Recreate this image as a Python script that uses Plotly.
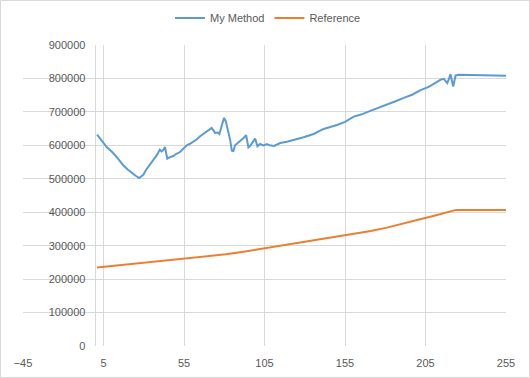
import plotly.graph_objects as go

# Series "My Method"
method_x = [1, 2, 3, 4, 5, 7, 9, 11, 14, 17, 20, 22.5, 25, 27.2, 29.7, 31.5, 33.8, 36, 38, 40,
            41, 42, 43.2, 44.6, 46, 48.3, 50, 52.5, 55, 56.7, 58.5, 60.8, 63, 65, 67, 69.1, 71,
            72.2, 73.3, 74.3, 76, 77, 78.5, 79.9, 81, 82.6, 83.7, 84.7, 85.7, 86.7, 88, 88.8, 90,
            90.9, 92, 93.6, 95, 96, 97.1, 98, 99.2, 100.6, 102.3, 104.3, 106.5, 108.1, 111, 114.7,
            118.9, 124, 129.3, 135.5, 141.7, 150, 155, 160.4, 165, 170.7, 176, 181.1, 186, 191.5,
            197, 201.9, 207, 212.2, 214.3, 216.4, 218.5, 219.7, 220.5, 222.2, 223, 223.7, 225.7,
            233, 240, 248, 255]
method_y = [632000, 626000, 620000, 612000, 608000, 595000, 586000, 577000, 560000, 542000,
            528000, 517000, 509000, 502000, 512000, 527000, 542000, 557000, 570000, 587000,
            582000, 585000, 595000, 560000, 564000, 568000, 574000, 580000, 592000, 600000,
            604000, 610000, 618000, 627000, 634000, 640000, 647000, 652000, 645000, 637000,
            638000, 634000, 660000, 682000, 672000, 642000, 615000, 584000, 583000, 600000,
            605000, 610000, 614000, 617000, 622000, 630000, 594000, 598000, 604000, 612000,
            620000, 597000, 604000, 600000, 604000, 600000, 598000, 607000, 611000, 617000,
            624000, 634000, 649000, 661000, 670000, 686000, 692000, 703000, 712000, 723000,
            731000, 742000, 752000, 765000, 775000, 790000, 796000, 799000, 786000, 800000,
            813000, 776000, 795000, 809000, 811000, 810000, 810000, 809000, 808000]

# Series "Reference"
ref_x = [1, 11, 21, 31, 41, 51, 61, 71, 81, 91, 101, 111, 121, 131, 141, 151, 161, 171, 181,
         191, 201, 211, 221, 224, 235, 245, 255]
ref_y = [234500, 239500, 244500, 249300, 254000, 258000, 262500, 268500, 274000, 281000,
         289000, 296500, 304500, 313000, 320000, 327000, 335000, 344000, 354000, 365000,
         378000, 390000, 403000, 407000, 407000, 407000, 407000]

W, H = 530, 378
L, R, T, B = 23, 24, 45, 32
pw, ph = W - L - R, H - T - B
grid = "#d9d9d9"
txt = "#595959"
font = "Liberation Sans"

fig = go.Figure()
fig.add_trace(go.Scatter(x=method_x, y=method_y, mode="lines", name="My Method",
                         line=dict(color="#5B9BD5", width=2)))
fig.add_trace(go.Scatter(x=ref_x, y=ref_y, mode="lines", name="Reference",
                         line=dict(color="#ED7D31", width=2)))

fig.update_layout(
    width=W, height=H,
    margin=dict(l=L, r=R, t=T, b=B, pad=0, autoexpand=False),
    paper_bgcolor="white", plot_bgcolor="white",
    font=dict(family=font, size=11, color=txt),
    showlegend=True,
    legend=dict(orientation="h", x=(268 - L) / pw, xanchor="center",
                y=(H - B - 18) / ph, yanchor="middle",
                font=dict(family=font, size=11, color=txt),
                itemwidth=30, bgcolor="rgba(0,0,0,0)"),
    xaxis=dict(range=[-45, 255], tick0=-45, dtick=50, showgrid=True, gridcolor=grid,
               gridwidth=1, zeroline=True, zerolinecolor=grid, zerolinewidth=1,
               showline=False, ticks="", automargin=False, ticklabelstandoff=9,
               tickfont=dict(family=font, size=11, color=txt)),
    yaxis=dict(range=[0, 900000], dtick=100000, showgrid=True, gridcolor=grid, gridwidth=1,
               zeroline=False, showline=False, ticks="", anchor="free", position=0.15,
               tickformat="d", ticklabelstandoff=10, automargin=False,
               tickfont=dict(family=font, size=11, color=txt)),
    shapes=[dict(type="rect", xref="paper", yref="paper",
                 x0=(0.5 - L) / pw, x1=(W - 0.5 - L) / pw,
                 y0=(H - B - (H - 0.5)) / ph, y1=(H - B - 0.5) / ph,
                 line=dict(color=grid, width=1), fillcolor="rgba(0,0,0,0)", layer="below")],
)

fig.write_html("out.html", config={"displayModeBar": False},
               post_script="document.body.style.margin='0';document.body.style.overflow='hidden';")
